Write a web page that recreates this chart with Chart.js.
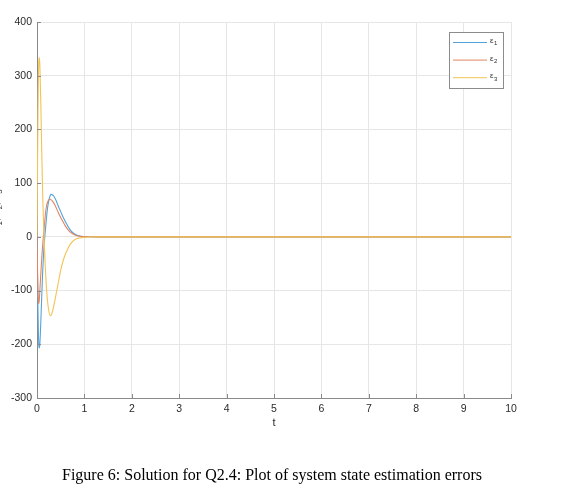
<!DOCTYPE html>
<html lang="en">
<head>
    <meta charset="UTF-8">
    <title>State estimation errors</title>
    <style>
        body {
            margin: 0;
            background-color: #ffffff;
        }
        canvas {
            display: block;
        }
    </style>
</head>
<body>
<canvas id="grafico" width="572" height="504"></canvas>

<script src="https://cdn.jsdelivr.net/npm/chart.js"></script>
<script>
    // values (t in seconds)
    const tempos = [0, 0.01, 0.02, 0.03, 0.04, 0.05, 0.06, 0.08, 0.10, 0.12, 0.14, 0.16, 0.18, 0.20, 0.22,
        0.25, 0.28, 0.30, 0.33, 0.36, 0.40, 0.45, 0.50, 0.55, 0.60, 0.65, 0.70, 0.80, 0.90, 1.00,
        1.10, 1.25, 1.5, 2, 3, 4, 5, 6, 7, 8, 9, 10];
    const erro1 = [0, -70, -135, -180, -203, -207, -200, -160, -110, -65, -30, -5, 15, 35, 52,
        68, 77, 79, 78, 75, 68, 57, 47, 37, 28, 20, 13, 5, 1.5, 0.5,
        0.2, 0, 0, 0, 0, 0, 0, 0, 0, 0, 0, 0];
    const erro2 = [0, -55, -100, -122, -124, -115, -100, -70, -40, -15, 5, 25, 45, 57, 64,
        69, 70, 69, 66, 62, 55, 45, 36, 28, 20, 14, 9, 3.5, 1, 0.4,
        0.1, 0, 0, 0, 0, 0, 0, 0, 0, 0, 0, 0];
    const erro3 = [0, 120, 230, 300, 330, 334, 320, 250, 160, 80, 20, -25, -65, -95, -118,
        -138, -147, -146, -138, -126, -108, -85, -62, -45, -32, -22, -14, -5, -2, -0.8,
        -0.3, -0.1, 0, 0, 0, 0, 0, 0, 0, 0, 0, 0];

    const nomesSeries = ['ε1', 'ε2', 'ε3'];
    const coresSeries = ['#55a3da', '#e2845f', '#f1c455'];
    const ticksX = [0, 1, 2, 3, 4, 5, 6, 7, 8, 9, 10];
    const ticksY = [-300, -200, -100, 0, 100, 200, 300, 400];
    const rotuloX = 't';
    const rotuloY = ['ε1', 'ε2', 'ε3'];
    const legenda = 'Figure 6: Solution for Q2.4: Plot of system state estimation errors';

    const corTexto = '#2b2b2b';
    const corEixo = '#8a8a8a';

    // desenha "ε" com o índice em subscrito
    function textoIndice(ctx, txt, x, y, tam) {
        ctx.font = tam + 'px "Liberation Sans", Arial, sans-serif';
        ctx.fillText(txt[0], x, y);
        const w = ctx.measureText(txt[0]).width;
        ctx.font = Math.round(tam * 0.72) + 'px "Liberation Sans", Arial, sans-serif';
        ctx.fillText(txt.slice(1), x + w + 0.5, y + tam * 0.3);
        return w + 0.5 + ctx.measureText(txt.slice(1)).width;
    }

    const extras = {
        id: 'extras',
        afterDraw(chart) {
            const ctx = chart.ctx;
            const area = chart.chartArea;
            const sx = chart.scales.x;
            const sy = chart.scales.y;
            ctx.save();

            // ticks para dentro, estilo MATLAB
            ctx.strokeStyle = corEixo;
            ctx.lineWidth = 1;
            ctx.beginPath();
            ticksX.forEach(v => {
                const px = Math.round(sx.getPixelForValue(v)) + 0.5;
                ctx.moveTo(px, area.bottom);
                ctx.lineTo(px, area.bottom - 4);
            });
            ticksY.forEach(v => {
                const py = Math.round(sy.getPixelForValue(v)) + 0.5;
                ctx.moveTo(area.left, py);
                ctx.lineTo(area.left + 4, py);
            });
            ctx.stroke();

            // legenda em caixa
            const bx = area.right - 62, by = area.top + 10, bw = 54, bh = 56;
            ctx.fillStyle = '#ffffff';
            ctx.fillRect(bx, by, bw, bh);
            ctx.strokeStyle = '#8c8c8c';
            ctx.strokeRect(bx + 0.5, by + 0.5, bw, bh);
            nomesSeries.forEach((nome, i) => {
                const ly = by + 10.5 + i * 17.6;
                ctx.strokeStyle = coresSeries[i];
                ctx.lineWidth = 1;
                ctx.beginPath();
                ctx.moveTo(bx + 4, ly);
                ctx.lineTo(bx + 38, ly);
                ctx.stroke();
                ctx.fillStyle = corTexto;
                ctx.textBaseline = 'alphabetic';
                ctx.textAlign = 'left';
                textoIndice(ctx, nome, bx + 41, ly + 0.5, 8);
            });

            // titulo do eixo x
            ctx.fillStyle = corTexto;
            ctx.textAlign = 'center';
            ctx.textBaseline = 'middle';
            ctx.font = '11px "Liberation Sans", Arial, sans-serif';
            ctx.fillText(rotuloX, (area.left + area.right) / 2, area.bottom + 25);

            // titulo do eixo y (cortado na borda, como no original)
            ctx.save();
            ctx.translate(-1, (area.top + area.bottom) / 2);
            ctx.rotate(-Math.PI / 2);
            ctx.textAlign = 'left';
            ctx.textBaseline = 'alphabetic';
            let largura = 0;
            ctx.font = '11px "Liberation Sans", Arial, sans-serif';
            rotuloY.forEach((r, i) => {
                largura += ctx.measureText(r[0]).width + 5 + (i < rotuloY.length - 1 ? ctx.measureText(', ').width : 0);
            });
            let x = -largura / 2;
            rotuloY.forEach((r, i) => {
                x += textoIndice(ctx, r, x, 0, 11);
                if (i < rotuloY.length - 1) {
                    ctx.font = '11px "Liberation Sans", Arial, sans-serif';
                    ctx.fillText(', ', x, 0);
                    x += ctx.measureText(', ').width;
                }
            });
            ctx.restore();

            // legenda da figura
            ctx.fillStyle = '#000000';
            ctx.textAlign = 'center';
            ctx.textBaseline = 'middle';
            ctx.font = '16px "Liberation Serif", "Times New Roman", serif';
            ctx.fillText(legenda, 272, 476);

            ctx.restore();
        }
    };

    // amarelo por cima, depois vermelho, depois azul
    const ordens = [2, 1, 0];
    const datasets = [erro1, erro2, erro3].map((serie, i) => ({
        label: nomesSeries[i],
        data: tempos.map((t, k) => ({ x: t, y: serie[k] })),
        borderColor: coresSeries[i],
        backgroundColor: coresSeries[i],
        borderWidth: 1.1,
        pointRadius: 0,
        cubicInterpolationMode: 'monotone',
        fill: false,
        order: ordens[i]
    }));

    new Chart(document.getElementById('grafico').getContext('2d'), {
        type: 'line',
        data: { datasets: datasets },
        options: {
            responsive: false,
            animation: false,
            layout: { padding: { left: 0, top: 22, right: 61, bottom: 0 } },
            plugins: {
                legend: { display: false },
                tooltip: { enabled: false }
            },
            scales: {
                x: {
                    type: 'linear',
                    min: 0,
                    max: 10,
                    afterFit: s => { s.height = 106; },
                    afterBuildTicks: s => { s.ticks = ticksX.map(v => ({ value: v })); },
                    ticks: {
                        color: corTexto,
                        padding: 5,
                        maxRotation: 0,
                        font: { family: '"Liberation Sans", Arial, sans-serif', size: 10.5 }
                    },
                    grid: { color: '#e6e6e6', drawTicks: false },
                    border: { color: corEixo, width: 1 }
                },
                y: {
                    min: -300,
                    max: 400,
                    afterFit: s => { s.width = 37; },
                    afterBuildTicks: s => { s.ticks = ticksY.map(v => ({ value: v })); },
                    ticks: {
                        color: corTexto,
                        padding: 5,
                        font: { family: '"Liberation Sans", Arial, sans-serif', size: 10.5 }
                    },
                    grid: { color: '#e6e6e6', drawTicks: false },
                    border: { color: corEixo, width: 1 }
                }
            }
        },
        plugins: [extras]
    });
</script>
</body>
</html>
